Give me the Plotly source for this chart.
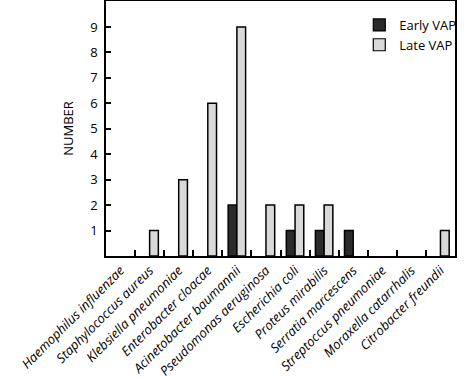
import plotly.graph_objects as go

categories = ["Haemophilus influenzae", "Staphylococcus aureus", "Klebsiella pneumoniae",
              "Enterobacter cloacae", "Acinetobacter baumannii", "Pseudomonas aeruginosa",
              "Escherichia coli", "Proteus mirabilis", "Serratia marcescens",
              "Streptoccus pneumoniae", "Moraxella catarrhalis", "Citrobacter freundii"]
early_vap = [0, 0, 0, 0, 2, 0, 1, 1, 1, 0, 0, 0]
late_vap = [0, 1, 3, 6, 9, 2, 2, 2, 0, 0, 0, 1]
y_ticks = [1, 2, 3, 4, 5, 6, 7, 8, 9]

FONT = "Open Sans"
series = [("Early VAP", early_vap, "#2b2b2b"), ("Late VAP", late_vap, "#d9d9d9")]


def outline_widths(vals):
    return [1.5 if v else 0 for v in vals]


fig = go.Figure()
for name, vals, color in series:
    fig.add_trace(go.Bar(x=categories, y=vals, name=name, showlegend=False,
                         legendgroup=name, offsetgroup=name,
                         marker=dict(color=color,
                                     line=dict(color="black", width=outline_widths(vals)))))
# legend entries (outlined swatches)
for name, vals, color in series:
    fig.add_trace(go.Bar(x=[categories[0]], y=[None], name=name, legendgroup=name,
                         offsetgroup=name,
                         marker=dict(color=color, line=dict(color="black", width=1.2))))

fig.update_layout(
    width=474, height=377,
    margin=dict(l=106, r=19, t=1, b=121, autoexpand=False),
    plot_bgcolor="white", paper_bgcolor="white",
    barmode="group", bargap=0.4, bargroupgap=0,
    font=dict(family=FONT, color="black", size=13),
    showlegend=True,
    legend=dict(x=1.018, y=0.965, xanchor="right", yanchor="top",
                bgcolor="rgba(0,0,0,0)", font=dict(size=13, family=FONT),
                itemwidth=30, tracegroupgap=0),
)
fig.update_xaxes(
    type="category", tickson="boundaries", ticks="inside", ticklen=6, tickwidth=1.5,
    tickcolor="black", showline=True, linecolor="black", linewidth=1.5, mirror=True,
    tickangle=-45, tickfont=dict(size=13, family=FONT, style="italic"),
    showgrid=False, automargin=False,
)
fig.update_yaxes(
    range=[0, 10.02], tickvals=y_ticks, ticks="inside", ticklen=5, tickwidth=1.5,
    tickcolor="black", showline=True, linecolor="black",
    linewidth=1.5, mirror=True, showgrid=False, zeroline=False, automargin=False,
    tickfont=dict(size=13, family=FONT), ticklabelstandoff=4,
    title=dict(text="NUMBER", font=dict(size=13, family=FONT), standoff=14),
)

fig.write_html(
    "out.html",
    config={"displayModeBar": False},
    post_script="document.body.style.margin='0';document.body.style.overflow='hidden';",
)
